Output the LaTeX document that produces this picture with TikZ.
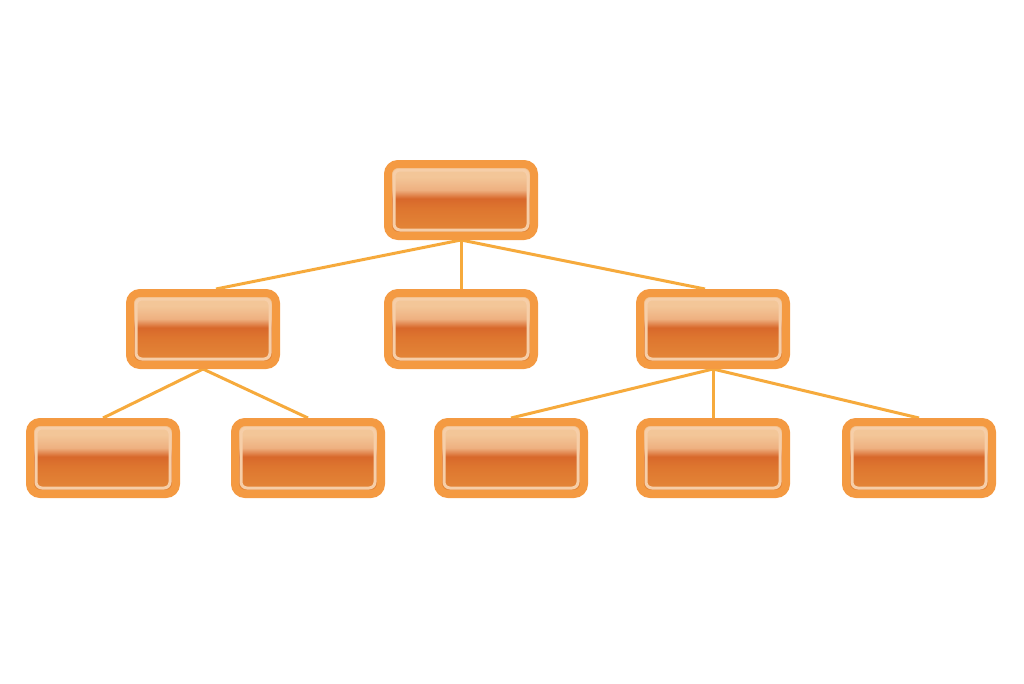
\documentclass[tikz,border=0pt]{standalone}
\usepackage{tikz}
\usetikzlibrary{backgrounds}

\definecolor{boxedge}{RGB}{244,154,66}
\definecolor{linkcol}{RGB}{246,170,60}
\definecolor{boxtop}{RGB}{243,198,152}
\definecolor{boxpeach}{RGB}{238,176,128}
\definecolor{boxdark}{RGB}{216,104,43}
\definecolor{boxmid}{RGB}{222,118,47}
\definecolor{boxlow}{RGB}{229,138,58}
\definecolor{boxrim}{RGB}{246,206,168}

\pgfdeclareverticalshading{glossy}{100bp}{color(0bp)=(boxlow); color(25bp)=(boxlow);
  color(44bp)=(boxmid); color(51bp)=(boxdark); color(57bp)=(boxpeach);
  color(66bp)=(boxtop); color(75bp)=(boxtop); color(100bp)=(boxtop)}

\tikzset{
  orgbox/.style={rectangle, rounded corners=10pt, minimum width=146pt, minimum height=72pt,
    inner sep=0pt, draw=boxedge, line width=8pt, shading=glossy,
    path picture={\draw[boxrim, line width=3pt, rounded corners=6pt]
      ([shift={(6pt,-6pt)}]path picture bounding box.north west) rectangle
      ([shift={(-6pt,6pt)}]path picture bounding box.south east);}},
  link/.style={draw=linkcol, line width=3pt}
}

\begin{document}
\begin{tikzpicture}[x=1pt,y=-1pt]
  \useasboundingbox (0,0) rectangle (1024,683);
  % top level
  \node[orgbox] (root) at (461,200) {};
  % second level
  \node[orgbox] (left) at (203,329) {};
  \node[orgbox] (mid) at (461,329) {};
  \node[orgbox] (right) at (713,329) {};
  % third level
  \node[orgbox] (left-a) at (103,458) {};
  \node[orgbox] (left-b) at (308,458) {};
  \node[orgbox] (right-a) at (511,458) {};
  \node[orgbox] (right-b) at (713,458) {};
  \node[orgbox] (right-c) at (919,458) {};
  \begin{scope}[on background layer]
    \draw[link] (root.south) -- ([xshift=13pt]left.north);
    \draw[link] (root.south) -- (mid.north);
    \draw[link] (root.south) -- ([xshift=-8pt]right.north);
    \draw[link] (left.south) -- (left-a.north);
    \draw[link] (left.south) -- (left-b.north);
    \draw[link] (right.south) -- (right-a.north);
    \draw[link] (right.south) -- (right-b.north);
    \draw[link] (right.south) -- (right-c.north);
  \end{scope}
\end{tikzpicture}
\end{document}
